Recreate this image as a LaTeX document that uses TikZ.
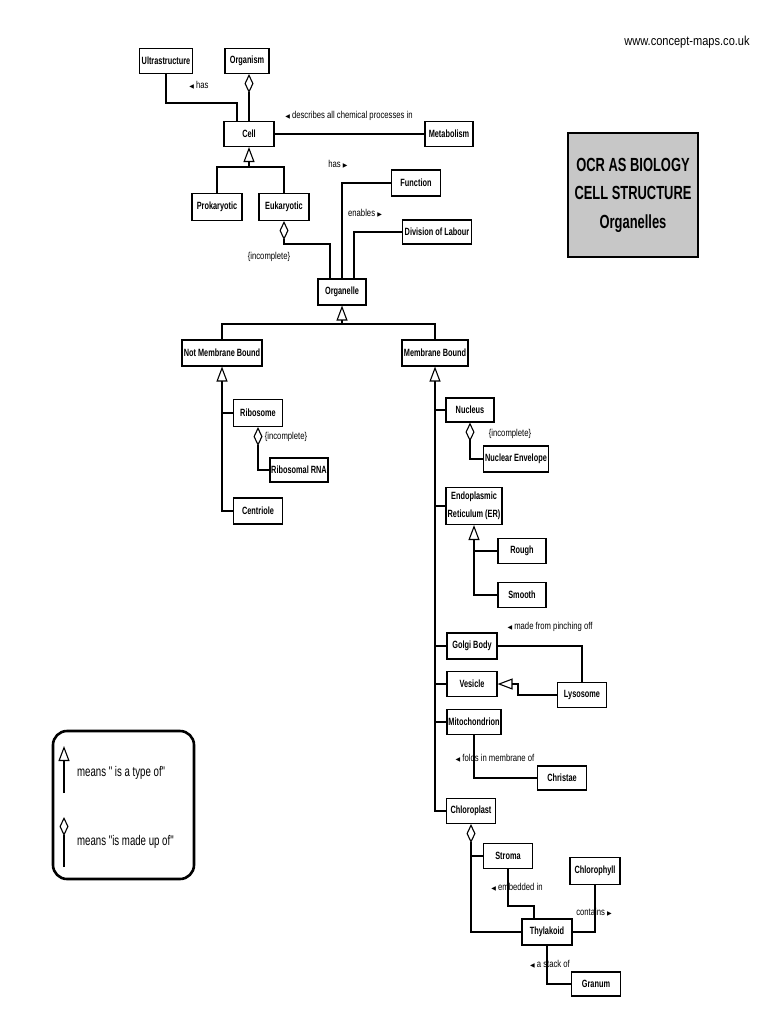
\documentclass[tikz,border=0pt]{standalone}
\usepackage{fontspec}
\setmainfont{Liberation Sans}
\newfontfamily\nara{Liberation Sans}[FakeStretch=0.7]
\newfontfamily\narb{Liberation Sans}[FakeStretch=0.77]
\newfontfamily\narc{Liberation Sans}[FakeStretch=0.69]
\newfontfamily\nart{Liberation Sans}[FakeStretch=0.68]
\newfontfamily\narw{Liberation Sans}[FakeStretch=0.85]
\newfontfamily\symf{DejaVu Sans}
\usetikzlibrary{arrows.meta}
\newcommand{\tipL}{{\symf\fontsize{6}{6}\selectfont ◀}}
\newcommand{\tipR}{{\symf\fontsize{6}{6}\selectfont ▶}}
\begin{document}
\begin{tikzpicture}[x=1pt,y=-1pt,
  box/.style={draw,line width=1.1pt,fill=white,inner sep=1pt,minimum height=25pt,font=\nara\bfseries\fontsize{10.5}{12}\selectfont,align=center},
  lbl/.style={font=\narb\fontsize{10}{11}\selectfont,inner sep=0pt},
  con/.style={line width=1.1pt},
  tri/.style={con,-{Triangle[open,length=15pt,width=11pt,line width=1.1pt]}},
  diam/.style={con,-{Diamond[open,length=19pt,width=9pt,line width=1.1pt]}}]
\useasboundingbox (0,0) rectangle (768,1024);

% website
\node[font=\narw\fontsize{13}{15}\selectfont,inner sep=0pt] (web) at (687,42) {www.concept-maps.co.uk};

% title
\node[draw,line width=1.1pt,fill=black!22,minimum width=130pt,minimum height=124pt,align=center,
  font=\nart\bfseries\fontsize{19}{28.5}\selectfont] (title) at (633,195) {OCR AS BIOLOGY\\CELL STRUCTURE\\Organelles};

% nodes
\node[box,minimum width=53pt] (ultra) at (166,61) {Ultrastructure};
\node[box,minimum width=44pt] (organism) at (247,61) {Organism};
\node[box,minimum width=50pt] (cell) at (249,134) {Cell};
\node[box,minimum width=48pt] (metab) at (449,134) {Metabolism};
\node[box,minimum width=50pt,minimum height=27pt] (prok) at (217,207) {Prokaryotic};
\node[box,minimum width=50pt,minimum height=27pt] (euk) at (284,207) {Eukaryotic};
\node[box,minimum width=49pt,minimum height=26pt] (func) at (416,183) {Function};
\node[box,minimum width=69pt,minimum height=24pt] (dol) at (437,232) {Division of Labour};
\node[box,minimum width=48pt,minimum height=26pt] (organelle) at (342,292) {Organelle};
\node[box,minimum width=80pt,minimum height=26pt] (nmb) at (222,353) {Not Membrane Bound};
\node[box,minimum width=66pt,minimum height=26pt] (mb) at (435,353) {Membrane Bound};
\node[box,minimum width=49pt,minimum height=27pt] (ribo) at (258,413) {Ribosome};
\node[box,minimum width=58pt,minimum height=24pt] (rrna) at (299,470) {Ribosomal RNA};
\node[box,minimum width=49pt,minimum height=26pt] (centriole) at (258,511) {Centriole};
\node[box,minimum width=48pt,minimum height=24pt] (nucleus) at (470,410) {Nucleus};
\node[box,minimum width=65pt,minimum height=26pt] (nenv) at (516,459) {Nuclear Envelope};
\node[box,minimum width=56pt,minimum height=37pt,font=\nara\bfseries\fontsize{10.5}{18}\selectfont] (er) at (474,506) {Endoplasmic\\Reticulum (ER)};
\node[box,minimum width=48pt] (rough) at (522,551) {Rough};
\node[box,minimum width=48pt] (smooth) at (522,595) {Smooth};
\node[box,minimum width=50pt,minimum height=26pt] (golgi) at (472,646) {Golgi Body};
\node[box,minimum width=50pt] (vesicle) at (472,684) {Vesicle};
\node[box,minimum width=49pt] (lyso) at (582,695) {Lysosome};
\node[box,minimum width=54pt] (mito) at (474,722) {Mitochondrion};
\node[box,minimum width=49pt,minimum height=24pt] (christae) at (562,778) {Christae};
\node[box,minimum width=49pt] (chloro) at (471,811) {Chloroplast};
\node[box,minimum width=49pt] (stroma) at (508,856) {Stroma};
\node[box,minimum width=50pt,minimum height=26pt] (thyl) at (547,932) {Thylakoid};
\node[box,minimum width=50pt,minimum height=27pt] (chlph) at (595,871) {Chlorophyll};
\node[box,minimum width=49pt,minimum height=24pt] (granum) at (596,984) {Granum};

% connectors top
\draw[con] (ultra.south) -- (166,103) -- (237,103) -- ([xshift=-12pt]cell.north);
\draw[diam] (cell.north) -- (cell.north |- organism.south);
\draw[con] (cell) -- (metab);
\coordinate (cj) at (249,167);
\draw[tri] (cj) -- (cell.south);
\draw[con] (prok.north) -- (prok.north |- cj) -- (euk.north |- cj) -- (euk.north);
\draw[diam] ([xshift=-12pt]organelle.north) -- (330,244) -- (284,244) -- (euk.south);
\draw[con] (func.west) -| (organelle.north);
\draw[con] (dol.west) -| ([xshift=12pt]organelle.north);

% organelle tree
\coordinate (oj) at (342,324);
\draw[tri] (oj) -- (organelle.south);
\draw[con] (nmb.north) |- (oj) -| (mb.north);

\coordinate (nj) at (222,382);
\draw[tri] (nj) -- (nmb.south);
\draw[con] (nj) |- (centriole.west);
\draw[con] (nj |- ribo.west) -- (ribo.west);
\draw[diam] (rrna.west) -| (ribo.south);

\coordinate (mj) at (435,382);
\draw[tri] (mj) -- (mb.south);
\draw[con] (mj) |- (chloro.west);
\draw[con] (mj |- nucleus.west) -- (nucleus.west);
\draw[con] (mj |- er.west) -- (er.west);
\draw[con] (mj |- golgi.west) -- (golgi.west);
\draw[con] (mj |- vesicle.west) -- (vesicle.west);
\draw[con] (mj |- mito.west) -- (mito.west);

\draw[diam] (nenv.west) -| (nucleus.south);

\coordinate (ej) at (474,541);
\draw[tri] (ej) -- (er.south);
\draw[con] (ej) |- (smooth.west);
\draw[con] (ej |- rough.west) -- (rough.west);

\draw[con] (golgi.east) -| (lyso.north);
\draw[tri] (lyso.west) -| (518,684) -- (vesicle.east);
\draw[con] (mito.south) |- (christae.west);

\draw[diam] (thyl.west) -| (chloro.south);
\draw[con] (chloro.south |- stroma.west) -- (stroma.west);
\draw[con] (stroma.south) -- (508,906) -- (534,906) -- ([xshift=-13pt]thyl.north);
\draw[con] (chlph.south) |- (thyl.east);
\draw[con] (thyl.south) |- (granum.west);

% labels
\node[lbl] (l1) at (199,85) {\tipL\ has};
\node[lbl] (l2) at (349,116) {\tipL\ describes all chemical processes in};
\node[lbl] (l3) at (338,164) {has \tipR};
\node[lbl] (l4) at (365,213) {enables \tipR};
\node[lbl] (l5) at (269,257) {\{incomplete\}};
\node[lbl] (l6) at (286,437) {\{incomplete\}};
\node[lbl] (l7) at (510,434) {\{incomplete\}};
\node[lbl] (l8) at (550,627) {\tipL\ made from pinching off};
\node[lbl] (l9) at (495,758) {\tipL\ folds in membrane of};
\node[lbl] (l10) at (517,887) {\tipL\ embedded in};
\node[lbl] (l11) at (594,912) {contains \tipR};
\node[lbl] (l12) at (550,964) {\tipL\ a stack of};

% legend
\node[draw,line width=2.6pt,rounded corners=14pt,minimum width=141pt,minimum height=148pt] (legend) at (123.5,805) {};
\coordinate (t1) at (64,793);
\coordinate (t2) at (64,746);
\draw[tri] (t1) -- (t2);
\coordinate (d1) at (64,867);
\coordinate (d2) at (64,817);
\draw[diam] (d1) -- (d2);
\node[anchor=west,inner sep=0pt,font=\narc\fontsize{14}{16}\selectfont] (lt1) at (77,773) {means " is a type of"};
\node[anchor=west,inner sep=0pt,font=\narc\fontsize{14}{16}\selectfont] (lt2) at (77,842) {means "is made up of"};
\end{tikzpicture}
\end{document}
